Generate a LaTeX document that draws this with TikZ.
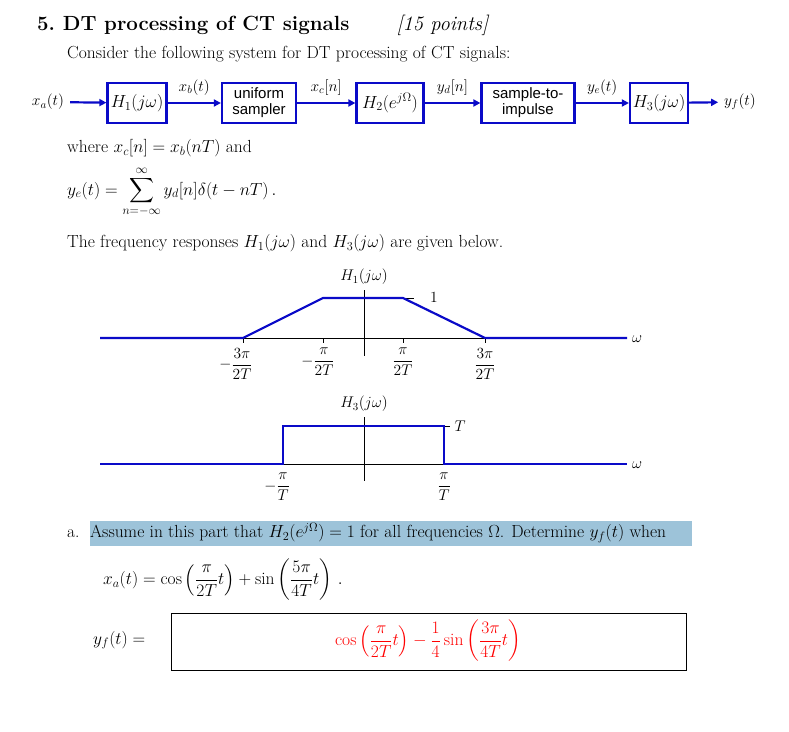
\RequirePackage{fix-cm}
\documentclass[tikz,border=0pt]{standalone}
\usepackage{amsmath}
\usepackage{fontspec}
\newfontfamily\sff{Liberation Sans}
\usetikzlibrary{arrows.meta}
\definecolor{bb}{RGB}{10,10,200}
\definecolor{hl}{RGB}{157,195,217}
\begin{document}
\fontsize{17.5}{21}\selectfont
\begin{tikzpicture}[x=1pt,y=-1pt,
  blk/.style={draw=bb,line width=2.2pt,minimum height=40pt,inner sep=2pt,align=center},
  sig/.style={draw=bb,line width=2.2pt,-{Triangle[length=7pt,width=7pt]}},
  plt/.style={draw=bb,line width=2.2pt},
  ax/.style={draw=black,line width=0.5pt},
  lab/.style={font=\fontsize{15.5}{17}\selectfont},
  txt/.style={anchor=west,inner sep=0pt}]
\useasboundingbox (0,0) rectangle (789,731);
\node[txt] (title) at (37,25) {\fontsize{20.5}{23}\selectfont\textbf{5.\ DT processing of CT signals}\hspace{2.3em}\textit{[15 points]}};
\node[txt] (cons) at (67,54) {Consider the following system for DT processing of CT signals:};
% block diagram
\node[lab] (xa) at (48,102) {$x_a(t)$};
\node[blk,minimum width=59pt] (h1) at (137,103) {$H_1(j\omega)$};
\node[blk,minimum width=74pt,font=\sff\fontsize{15}{16}\selectfont] (us) at (259,103) {uniform\\sampler};
\node[blk,minimum width=67pt] (h2) at (390,103) {$H_2(e^{j\Omega})$};
\node[blk,minimum width=93pt,font=\sff\fontsize{15}{16}\selectfont] (si) at (528,103) {sample-to-\\impulse};
\node[blk,minimum width=58pt] (h3) at (659,103) {$H_3(j\omega)$};
\node[lab] (yf) at (740,102) {$y_f(t)$};
\draw[sig] (xa) -- (h1);
\draw[sig] (h1) -- node[lab,above=1pt] {$x_b(t)$} (us);
\draw[sig] (us) -- node[lab,above=1pt] {$x_c[n]$} (h2);
\draw[sig] (h2) -- node[lab,above=1pt] {$y_d[n]$} (si);
\draw[sig] (si) -- node[lab,above=1pt] {$y_e(t)$} (h3);
\draw[sig] (h3) -- (yf);
\node[txt] (where) at (67,148) {where $x_c[n]=x_b(nT)$ and};
\node[txt] (sum) at (67,192) {$\displaystyle y_e(t)=\sum_{n=-\infty}^{\infty} y_d[n]\delta(t-nT)\,.$};
\node[txt] (freq) at (67,243) {The frequency responses $H_1(j\omega)$ and $H_3(j\omega)$ are given below.};
% H1 plot
\begin{scope}[lab]
\draw[ax] (100,338) -- (627,338);
\draw[ax] (364,290) -- (364,356);
\node (w1) at (637,339) {$\omega$};
\node (h1l) at (364,277) {$H_1(j\omega)$};
\draw[ax] (403,298) -- (414,298);
\node (one) at (434,297) {$1$};
\foreach \x in {243,323,403,485} \draw[ax] (\x,338) -- (\x,343);
\draw[plt] (100,338) -- (243,338) -- (323,298) -- (403,298) -- (485,338) -- (627,338);
\node (t1) at (236,364) {$-\dfrac{3\pi}{2T}$};
\node (t2) at (318,362) {$-\dfrac{\pi}{2T}$};
\node (t3) at (403,362) {$\dfrac{\pi}{2T}$};
\node (t4) at (485,364) {$\dfrac{3\pi}{2T}$};
% H3 plot
\draw[ax] (100,464) -- (627,464);
\draw[ax] (364,417) -- (364,481);
\node (w3) at (637,465) {$\omega$};
\node (h3l) at (364,404) {$H_3(j\omega)$};
\draw[ax] (444,426) -- (450,426);
\node (tt) at (460,426) {$T$};
\draw[plt] (100,464) -- (283,464) -- (283,426) -- (444,426) -- (444,464) -- (627,464);
\node (t5) at (277,487) {$-\dfrac{\pi}{T}$};
\node (t6) at (444,487) {$\dfrac{\pi}{T}$};
\end{scope}
% part a
\fill[hl] (90,521) rectangle (692,546);
\node[txt] (a) at (67,533) {a.\hspace{0.6em}Assume in this part that $H_2(e^{j\Omega})=1$ for all frequencies $\Omega$. Determine $y_f(t)$ when};
\node[txt] (xat) at (103,580) {$x_a(t)=\cos\left(\dfrac{\pi}{2T}t\right)+\sin\left(\dfrac{5\pi}{4T}t\right)\,.$};
\node[txt] (yft) at (93,640) {$y_f(t)=$};
\draw[line width=0.8pt] (171,613) rectangle (686,670);
\node[red] (ans) at (428,641) {$\cos\left(\dfrac{\pi}{2T}t\right)-\dfrac14\sin\left(\dfrac{3\pi}{4T}t\right)$};
\end{tikzpicture}
\end{document}
